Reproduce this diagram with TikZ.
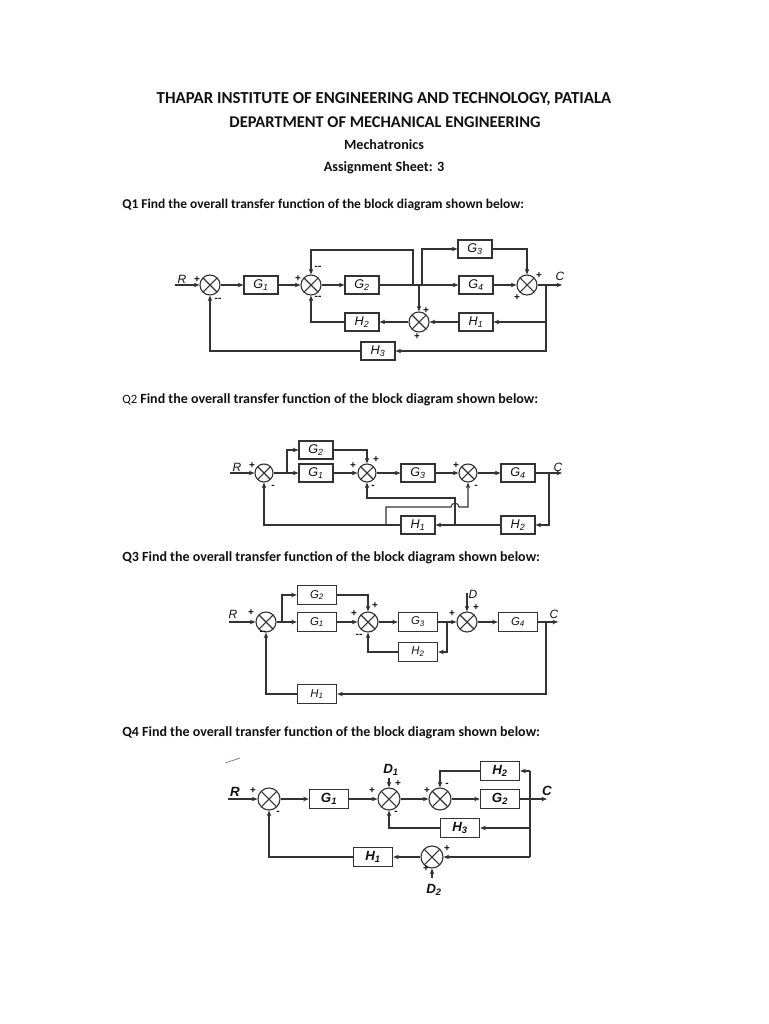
\documentclass[tikz,border=0pt]{standalone}
\usepackage{fontspec}
\setmainfont{Carlito}
\newfontfamily\scanfont{Liberation Sans}
\usetikzlibrary{arrows.meta,positioning}
\definecolor{blkInk}{HTML}{333333}
\definecolor{blkText}{HTML}{111111}
\definecolor{blkPen}{HTML}{6F7FA8}
\tikzset{
  every picture/.style={text=blkText},
  blk title/.style={font=\bfseries\fontsize{12.6}{15}\selectfont, inner sep=0pt},
  blk sub/.style={font=\bfseries\fontsize{10.6}{13}\selectfont, inner sep=0pt},
  blk ques/.style={font=\bfseries\fontsize{10.5}{13}\selectfont, inner sep=0pt, anchor=west},
  blk box/.style={draw=blkInk, line width=0.85pt, fill=white, inner sep=0pt,
    minimum width=25.5pt, minimum height=13.5pt,
    font=\scanfont\itshape\fontsize{9.5}{10}\selectfont},
  blk wide/.style={blk box, minimum width=29.5pt, minimum height=14.5pt,
    font=\scanfont\itshape\fontsize{8.5}{10}\selectfont},
  blk big/.style={blk wide, font=\scanfont\itshape\bfseries\fontsize{10}{10}\selectfont},
  blk sum/.style={draw=blkInk, line width=0.85pt, circle, inner sep=0pt, minimum size=15pt,
    path picture={\draw[blkInk,line width=0.8pt]
      (path picture bounding box.south west) -- (path picture bounding box.north east)
      (path picture bounding box.north west) -- (path picture bounding box.south east);}},
  blk sign/.style={font=\scanfont\bfseries\fontsize{7.5}{8}\selectfont, inner sep=0pt, text=blkText},
  blk label/.style={font=\scanfont\itshape\fontsize{9}{9}\selectfont, inner sep=0pt},
  blk biglabel/.style={font=\scanfont\itshape\bfseries\fontsize{10}{10}\selectfont, inner sep=0pt},
  blk arrow/.style={-{Stealth[length=4.2pt,width=3.4pt]}, draw=blkInk, line width=0.8pt},
  blk line/.style={draw=blkInk, line width=0.8pt}
}
\newcommand{\blkname}[2]{#1\textsubscript{#2}}
\begin{document}
\begin{tikzpicture}[x=0.75pt,y=-0.75pt]
  \useasboundingbox (0,0) rectangle (768,1024);
  % headings
  \node[blk title] (titleA) at (384,99) {THAPAR INSTITUTE OF ENGINEERING AND TECHNOLOGY, PATIALA};
  \node[blk title,font=\bfseries\fontsize{12.3}{15}\selectfont] (titleB) at (385,122) {DEPARTMENT OF MECHANICAL ENGINEERING};
  \node[blk sub] (titleC) at (384,145) {Mechatronics};
  \node[blk sub] (titleD) at (384,168) {Assignment Sheet: 3};
  \node[blk ques,font=\bfseries\fontsize{10.1}{13}\selectfont] (quesA) at (122,205) {Q1 Find the overall transfer function of the block diagram shown below:};
  \node[blk ques] (quesB) at (122,400) {{\mdseries\fontsize{9.5}{13}\selectfont Q2} Find the overall transfer function of the block diagram shown below:};
  \node[blk ques] (quesC) at (122,558) {Q3 Find the overall transfer function of the block diagram shown below:};
  \node[blk ques] (quesD) at (122,733) {Q4 Find the overall transfer function of the block diagram shown below:};

  % Q1
  \node[blk sum] (q1sa) at (210,285) {};
  \node[blk sum] (q1sb) at (311,285) {};
  \node[blk sum] (q1sc) at (527,285) {};
  \node[blk sum] (q1sd) at (419,322) {};
  \node[blk box] (q1ga) at (261,285) {\blkname{G}{1}};
  \node[blk box] (q1gb) at (362,285) {\blkname{G}{2}};
  \node[blk box] (q1gc) at (475,249) {\blkname{G}{3}};
  \node[blk box] (q1gd) at (476,285) {\blkname{G}{4}};
  \node[blk box] (q1ha) at (476,322) {\blkname{H}{1}};
  \node[blk box] (q1hb) at (362,322) {\blkname{H}{2}};
  \node[blk box] (q1hc) at (378,351) {\blkname{H}{3}};
  \coordinate (q1in) at (175,285);
  \coordinate (q1out) at (562,285);
  \coordinate (q1ja) at (413,285);
  \coordinate (q1jb) at (419,285);
  \coordinate (q1jc) at (422,285);
  \coordinate (q1jd) at (546,285);
  \coordinate (q1top) at (413,250);
  \draw[blk arrow] (q1in) -- (q1sa);
  \draw[blk arrow] (q1sa) -- (q1ga);
  \draw[blk arrow] (q1ga) -- (q1sb);
  \draw[blk arrow] (q1sb) -- (q1gb);
  \draw[blk arrow] (q1gb) -- (q1gd);
  \draw[blk arrow] (q1gd) -- (q1sc);
  \draw[blk arrow] (q1sc) -- (q1out);
  \draw[blk arrow] (q1ja) -- (q1top) -| (q1sb);
  \draw[blk arrow] (q1jc) |- (q1gc);
  \draw[blk arrow] (q1gc) -| (q1sc);
  \draw[blk arrow] (q1jb) -- (q1sd);
  \draw[blk arrow] (q1jd) |- (q1ha);
  \draw[blk arrow] (q1ha) -- (q1sd);
  \draw[blk arrow] (q1sd) -- (q1hb);
  \draw[blk arrow] (q1hb) -| (q1sb);
  \draw[blk arrow] (q1jd) |- (q1hc);
  \draw[blk arrow] (q1hc) -| (q1sa);
  \node[blk label] (q1r) at (182,279) {R};
  \node[blk label] (q1c) at (560,276) {C};
  \node[blk sign] (q1pa) at (197,280) {+};
  \node[blk sign] (q1pb) at (218,300) {--};
  \node[blk sign] (q1pc) at (298,279) {+};
  \node[blk sign] (q1pd) at (318,268) {--};
  \node[blk sign] (q1pe) at (318,298) {--};
  \node[blk sign] (q1pf) at (539,276) {+};
  \node[blk sign] (q1pg) at (517,298) {+};
  \node[blk sign] (q1ph) at (426,311) {+};
  \node[blk sign] (q1pi) at (417,337) {+};

  % Q2
  \node[blk sum,minimum size=13.5pt] (q2sa) at (264,473) {};
  \node[blk sum,minimum size=13.5pt] (q2sb) at (367,473) {};
  \node[blk sum,minimum size=13.5pt] (q2sc) at (468,473) {};
  \node[blk box] (q2gb) at (316,450) {\blkname{G}{2}};
  \node[blk box] (q2ga) at (316,473) {\blkname{G}{1}};
  \node[blk box] (q2gc) at (418,473) {\blkname{G}{3}};
  \node[blk box] (q2gd) at (518,473) {\blkname{G}{4}};
  \node[blk box] (q2ha) at (418,525) {\blkname{H}{1}};
  \node[blk box] (q2hb) at (518,525) {\blkname{H}{2}};
  \coordinate (q2in) at (230,473);
  \coordinate (q2out) at (562,473);
  \coordinate (q2ja) at (287,473);
  \coordinate (q2jb) at (549,473);
  \coordinate (q2jc) at (455,525);
  \coordinate (q2jd) at (386,525);
  \coordinate (q2ce) at (455,498);
  \coordinate (q2cf) at (386,507);
  \coordinate (q2hopa) at (451,507);
  \coordinate (q2hopb) at (459,507);
  \coordinate (q2cg) at (468,507);
  \draw[blk arrow] (q2in) -- (q2sa);
  \draw[blk arrow] (q2sa) -- (q2ga);
  \draw[blk arrow] (q2ga) -- (q2sb);
  \draw[blk arrow] (q2sb) -- (q2gc);
  \draw[blk arrow] (q2gc) -- (q2sc);
  \draw[blk arrow] (q2sc) -- (q2gd);
  \draw[blk arrow] (q2gd) -- (q2out);
  \draw[blk arrow] (q2ja) |- (q2gb);
  \draw[blk arrow] (q2gb) -| (q2sb);
  \draw[blk arrow] (q2jb) |- (q2hb);
  \draw[blk arrow] (q2hb) -- (q2ha);
  \draw[blk arrow] (q2jc) -- (q2ce) -| (q2sb);
  \draw[blk arrow] (q2jd) -- (q2cf) -- (q2hopa) .. controls +(0,-5) and +(0,-5) .. (q2hopb) -- (q2cg) -- (q2sc);
  \draw[blk arrow] (q2ha) -| (q2sa);
  \node[blk label] (q2r) at (237,467) {R};
  \node[blk label] (q2c) at (558,467) {C};
  \node[blk sign] (q2pa) at (252,466) {+};
  \node[blk sign] (q2pb) at (273,487) {-};
  \node[blk sign] (q2pc) at (353,466) {+};
  \node[blk sign] (q2pd) at (376,460) {+};
  \node[blk sign] (q2pe) at (373,487) {-};
  \node[blk sign] (q2pf) at (456,466) {+};
  \node[blk sign] (q2pg) at (476,487) {-};

  % Q3
  \node[blk sum] (q3sa) at (266,622) {};
  \node[blk sum] (q3sb) at (368,622) {};
  \node[blk sum] (q3sc) at (467,622) {};
  \node[blk wide] (q3gb) at (317,595) {\blkname{G}{2}};
  \node[blk wide] (q3ga) at (317,622) {\blkname{G}{1}};
  \node[blk wide] (q3gc) at (418,622) {\blkname{G}{3}};
  \node[blk wide] (q3hb) at (418,652) {\blkname{H}{2}};
  \node[blk wide] (q3gd) at (518,622) {\blkname{G}{4}};
  \node[blk wide] (q3ha) at (317,694) {\blkname{H}{1}};
  \coordinate (q3in) at (229,622);
  \coordinate (q3out) at (558,622);
  \coordinate (q3d) at (467,593);
  \coordinate (q3ja) at (282,622);
  \coordinate (q3jb) at (447,622);
  \coordinate (q3jc) at (546,622);
  \draw[blk arrow] (q3in) -- (q3sa);
  \draw[blk arrow] (q3sa) -- (q3ga);
  \draw[blk arrow] (q3ga) -- (q3sb);
  \draw[blk arrow] (q3sb) -- (q3gc);
  \draw[blk arrow] (q3gc) -- (q3sc);
  \draw[blk arrow] (q3sc) -- (q3gd);
  \draw[blk arrow] (q3gd) -- (q3out);
  \draw[blk arrow] (q3d) -- (q3sc);
  \draw[blk arrow] (q3ja) |- (q3gb);
  \draw[blk arrow] (q3gb) -| (q3sb);
  \draw[blk arrow] (q3jb) |- (q3hb);
  \draw[blk arrow] (q3hb) -| (q3sb);
  \draw[blk arrow] (q3jc) |- (q3ha);
  \draw[blk arrow] (q3ha) -| (q3sa);
  \node[blk label] (q3r) at (233,614) {R};
  \node[blk label] (q3c) at (554,614) {C};
  \node[blk label] (q3dl) at (473,594) {D};
  \node[blk sign] (q3pa) at (251,613) {+};
  \node[blk sign] (q3pb) at (263,633) {--};
  \node[blk sign] (q3pc) at (354,614) {+};
  \node[blk sign] (q3pd) at (375,606) {+};
  \node[blk sign] (q3pe) at (359,636) {--};
  \node[blk sign] (q3pf) at (452,614) {+};
  \node[blk sign] (q3pg) at (476,608) {+};

  % Q4
  \node[blk sum,minimum size=16.5pt] (q4sa) at (269,799) {};
  \node[blk sum,minimum size=16.5pt] (q4sb) at (389,799) {};
  \node[blk sum,minimum size=16.5pt] (q4sc) at (440,799) {};
  \node[blk sum,minimum size=16.5pt] (q4sd) at (432,857) {};
  \node[blk big] (q4ga) at (329,799) {\blkname{G}{1}};
  \node[blk big] (q4gb) at (500,799) {\blkname{G}{2}};
  \node[blk big] (q4hb) at (500,771) {\blkname{H}{2}};
  \node[blk big] (q4hc) at (460,828) {\blkname{H}{3}};
  \node[blk big] (q4ha) at (373,857) {\blkname{H}{1}};
  \coordinate (q4in) at (228,799);
  \coordinate (q4out) at (547,799);
  \coordinate (q4top) at (530,771);
  \coordinate (q4jb) at (530,828);
  \coordinate (q4low) at (530,857);
  \coordinate (q4da) at (389,778);
  \coordinate (q4db) at (432,878);
  \draw[blk arrow] (q4in) -- (q4sa);
  \draw[blk arrow] (q4sa) -- (q4ga);
  \draw[blk arrow] (q4ga) -- (q4sb);
  \draw[blk arrow] (q4sb) -- (q4sc);
  \draw[blk arrow] (q4sc) -- (q4gb);
  \draw[blk arrow] (q4gb) -- (q4out);
  \draw[blk arrow] (q4da) -- (q4sb);
  \draw[blk arrow] (q4db) -- (q4sd);
  \draw[blk line] (q4top) -- (q4low);
  \draw[blk arrow] (q4top) -- (q4hb);
  \draw[blk arrow] (q4hb) -| (q4sc);
  \draw[blk arrow] (q4jb) -- (q4hc);
  \draw[blk arrow] (q4hc) -| (q4sb);
  \draw[blk arrow] (q4low) -- (q4sd);
  \draw[blk arrow] (q4sd) -- (q4ha);
  \draw[blk arrow] (q4ha) -| (q4sa);
  \node[blk biglabel] (q4r) at (235,792) {R};
  \node[blk biglabel] (q4c) at (547,791) {C};
  \node[blk biglabel] (q4dla) at (391,770) {\blkname{D}{1}};
  \node[blk biglabel] (q4dlb) at (434,890) {\blkname{D}{2}};
  \node[blk sign] (q4pa) at (253,791) {+};
  \node[blk sign] (q4pb) at (278,813) {-};
  \node[blk sign] (q4pc) at (372,791) {+};
  \node[blk sign] (q4pd) at (398,784) {+};
  \node[blk sign] (q4pe) at (396,813) {-};
  \node[blk sign] (q4pf) at (427,791) {+};
  \node[blk sign] (q4pg) at (447,785) {-};
  \node[blk sign] (q4ph) at (447,849) {+};
  \node[blk sign] (q4pi) at (426,869) {+};
  \coordinate (q4marka) at (225,763);
  \coordinate (q4markb) at (240,758);
  \draw[blkPen,line width=0.6pt] (q4marka) -- (q4markb);
\end{tikzpicture}
\end{document}
